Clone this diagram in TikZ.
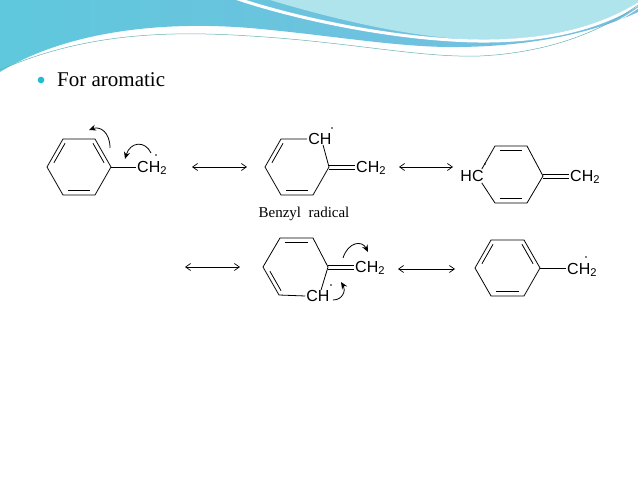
\documentclass[tikz,border=0pt]{standalone}
\usepackage{fontspec}
\setmainfont{Liberation Serif}
\newfontfamily\arial{Liberation Sans}
\usetikzlibrary{arrows.meta,calc}
\definecolor{wavea}{RGB}{95,200,220}
\definecolor{waveb}{RGB}{120,190,225}
\definecolor{pale}{RGB}{175,228,236}
\definecolor{bul}{RGB}{30,190,210}
\tikzset{
  bond/.style={line width=0.8pt},
  lbl/.style={font=\arial\fontsize{16}{16}\selectfont, inner sep=1pt},
  rad/.style={circle, fill=black, inner sep=0pt, minimum size=1.8pt},
  res/.style={line width=0.7pt, {Straight Barb[length=5pt,width=7pt]}-{Straight Barb[length=5pt,width=7pt]}},
  curly/.style={line width=0.8pt, -{Stealth[length=7pt,width=6pt]}}
}
\begin{document}
\begin{tikzpicture}[x=1pt,y=-1pt]
\useasboundingbox (0,0) rectangle (638,478);
% banner
\shade[left color=wavea, right color=waveb] (0,0) -- (0,72) .. controls (60,35) and (150,20) .. (250,28) .. controls (330,35) and (400,48) .. (460,47) .. controls (540,46) and (600,30) .. (638,12) -- (638,0) -- cycle;
\fill[pale] (270,0) .. controls (330,18) and (410,38) .. (480,40) .. controls (560,40) and (610,20) .. (638,3) -- (638,0) -- cycle;
\draw[white, line width=3pt] (235,-2) .. controls (300,20) and (400,40) .. (478,41) .. controls (560,42) and (610,22) .. (640,3);
\draw[teal!60, line width=0.5pt] (0,70) .. controls (80,35) and (160,30) .. (250,36) .. controls (350,42) and (420,58) .. (480,56) .. controls (560,52) and (610,25) .. (638,5);
\draw[white, line width=0.8pt] (0,74) .. controls (80,38) and (160,33) .. (250,39) .. controls (350,45) and (420,61) .. (480,59) .. controls (560,55) and (610,28) .. (638,8);
% bullet
\fill[bul] (41,80) circle (3.3);
\node[anchor=west, font=\fontsize{21}{21}\selectfont, inner sep=0pt] (title) at (57,80) {For aromatic};

% ---- structure 1
\coordinate (a1) at (47,167); \coordinate (a2) at (63,139); \coordinate (a3) at (95,139);
\coordinate (a4) at (111,167); \coordinate (a5) at (95,195); \coordinate (a6) at (63,195);
\draw[bond] (a1)--(a2)--(a3)--(a4)--(a5)--(a6)--cycle;
\draw[bond] ($(a1)!0.15!(a2)+(4.5,0)$) -- ($(a1)!0.85!(a2)+(4.5,0)$);
\draw[bond] ($(a3)!0.15!(a4)+(-4.5,0)$) -- ($(a3)!0.85!(a4)+(-4.5,0)$);
\draw[bond] ($(a6)!0.15!(a5)+(0,-4.5)$) -- ($(a6)!0.85!(a5)+(0,-4.5)$);
\node[lbl, anchor=west] (c1) at (136,168) {CH\textsubscript{2}};
\node[rad] (d1) at (156,155) {};
\draw[bond] (a4) -- ($(c1.west)+(0,-1)$);
\coordinate (k1) at (110,148); \coordinate (k2) at (89,130);
\draw[curly] (k1) .. controls (110,132) and (100,126) .. (k2);
\coordinate (k3) at (151,153); \coordinate (k4) at (125,159);
\draw[curly] (k3) .. controls (145,140) and (130,142) .. (k4);

\coordinate (r1a) at (192,167); \coordinate (r1b) at (247,167);
\draw[res] (r1a) -- (r1b);

% ---- structure 2
\coordinate (b1) at (265,167); \coordinate (b2) at (281,139); \node[lbl] (b3) at (320,139) {CH};
\coordinate (b4) at (329,167); \coordinate (b5) at (313,195); \coordinate (b6) at (281,195);
\node[rad] (d2) at (332,128) {};
\path (b3.south) ++(3,-1) coordinate (b3s);
\draw[bond] (b3.west) -- (b2) -- (b1) -- (b6) -- (b5) -- (b4) -- (b3s);
\draw[bond] ($(b1)!0.15!(b2)+(4.5,0)$) -- ($(b1)!0.85!(b2)+(4.5,0)$);
\draw[bond] ($(b6)!0.15!(b5)+(0,-4.5)$) -- ($(b6)!0.85!(b5)+(0,-4.5)$);
\node[lbl, anchor=west] (c2) at (355,168) {CH\textsubscript{2}};
\draw[bond] ($(b4)+(0,-2)$) -- ($(c2.west)+(0,-3)$);
\draw[bond] ($(b4)+(0,2)$) -- ($(c2.west)+(0,1)$);
\node[font=\fontsize{15}{15}\selectfont] (br) at (304,214) {Benzyl\ \ radical};

\coordinate (r2a) at (399,167); \coordinate (r2b) at (453,167);
\draw[res] (r2a) -- (r2b);

% ---- structure 3
\node[lbl] (e1) at (472,176) {HC};
\node[rad] (d3) at (485,164) {};
\coordinate (e2) at (495,146); \coordinate (e3) at (527,146);
\coordinate (e4) at (543,176); \coordinate (e5) at (527,203); \coordinate (e6) at (495,203);
\draw[bond] ($(e1.north east)+(-3,0)$) -- (e2) -- (e3) -- (e4) -- (e5) -- (e6) -- ($(e1.south east)+(-3,0)$);
\draw[bond] ($(e2)!0.15!(e3)+(0,4.5)$) -- ($(e2)!0.85!(e3)+(0,4.5)$);
\draw[bond] ($(e6)!0.15!(e5)+(0,-4.5)$) -- ($(e6)!0.85!(e5)+(0,-4.5)$);
\node[lbl, anchor=west] (c3) at (569,177) {CH\textsubscript{2}};
\draw[bond] ($(e4)+(0,-2)$) -- ($(c3.west)+(0,-3)$);
\draw[bond] ($(e4)+(0,2)$) -- ($(c3.west)+(0,1)$);

% ---- row 2
\coordinate (r3a) at (185,267); \coordinate (r3b) at (240,267);
\draw[res] (r3a) -- (r3b);

% structure 4
\coordinate (f1) at (263,267); \coordinate (f2) at (280,238); \coordinate (f3) at (313,238);
\coordinate (f4) at (328,267); \node[lbl] (f5) at (318,296) {CH}; \coordinate (f6) at (279,295);
\node[rad] (d4) at (331,285) {};
\draw[bond] (f5.west) -- (f6) -- (f1) -- (f2) -- (f3) -- (f4) -- ($(f5.north)+(3,1)$);
\draw[bond] ($(f2)!0.15!(f3)+(0,4.5)$) -- ($(f2)!0.85!(f3)+(0,4.5)$);
\draw[bond] ($(f1)!0.15!(f6)+(4.5,0)$) -- ($(f1)!0.85!(f6)+(4.5,0)$);
\node[lbl, anchor=west] (c4) at (354,268) {CH\textsubscript{2}};
\draw[bond] ($(f4)+(0,-2)$) -- ($(c4.west)+(0,-3)$);
\draw[bond] ($(f4)+(0,2)$) -- ($(c4.west)+(0,1)$);
\coordinate (k5) at (343,258); \coordinate (k6) at (368,252);
\draw[curly] (k5) .. controls (348,242) and (362,240) .. (k6);
\coordinate (k7) at (333,300); \coordinate (k8) at (341,282);
\draw[curly] (k7) .. controls (343,300) and (346,290) .. (k8);

\coordinate (r4a) at (398,269); \coordinate (r4b) at (455,269);
\draw[res] (r4a) -- (r4b);

% structure 5
\coordinate (g1) at (475,268); \coordinate (g2) at (491,240); \coordinate (g3) at (524,240);
\coordinate (g4) at (540,268); \coordinate (g5) at (524,296); \coordinate (g6) at (491,296);
\draw[bond] (g1)--(g2)--(g3)--(g4)--(g5)--(g6)--cycle;
\draw[bond] ($(g1)!0.15!(g2)+(4.5,0)$) -- ($(g1)!0.85!(g2)+(4.5,0)$);
\draw[bond] ($(g3)!0.15!(g4)+(-4.5,0)$) -- ($(g3)!0.85!(g4)+(-4.5,0)$);
\draw[bond] ($(g6)!0.15!(g5)+(0,-4.5)$) -- ($(g6)!0.85!(g5)+(0,-4.5)$);
\node[lbl, anchor=west] (c5) at (566,270) {CH\textsubscript{2}};
\node[rad] (d5) at (586,257) {};
\draw[bond] (g4) -- ($(c5.west)+(0,-2)$);
\end{tikzpicture}
\end{document}
